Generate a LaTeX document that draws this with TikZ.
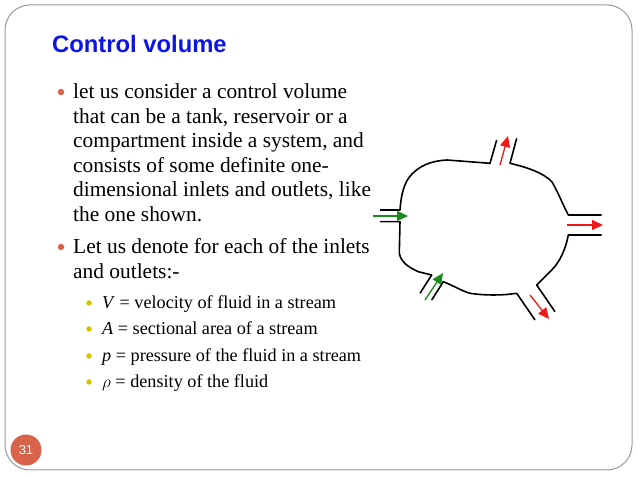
\documentclass[tikz,border=0pt]{standalone}
\usepackage{fontspec}
\setmainfont{Liberation Serif}
\newfontfamily\arialf{Liberation Sans}
\usetikzlibrary{arrows.meta}
\definecolor{bulletred}{HTML}{D9634A}
\definecolor{bulletyel}{HTML}{D4C400}
\definecolor{titleblue}{HTML}{0A14E6}
\definecolor{flowgreen}{HTML}{1A8A1A}
\definecolor{flowred}{HTML}{F01818}
\tikzset{
  body/.style={anchor=base west,inner sep=0pt,font=\fontsize{21.4}{24}\selectfont},
  sub/.style={anchor=base west,inner sep=0pt,font=\fontsize{18.2}{20}\selectfont},
  bdot/.style={circle,fill=bulletred,inner sep=0pt,minimum size=6.5pt},
  sdot/.style={circle,fill=bulletyel,inner sep=0pt,minimum size=5.5pt},
  wall/.style={line width=1.6pt,line join=round},
  flow/.style={line width=1.3pt,-{Triangle[length=11pt,width=10pt]}}
}
\begin{document}
\begin{tikzpicture}[x=1pt,y=-1pt]
\useasboundingbox (0,0) rectangle (638,478);
\draw[gray!80,line width=1pt,rounded corners=25pt] (5,5) rectangle (632,470);
\node[circle,fill=bulletred,minimum size=31pt,inner sep=0pt,text=white,font=\arialf\fontsize{13}{14}\selectfont] (pg) at (26,450) {31};
\node[anchor=base west,inner sep=0pt,text=titleblue,font=\arialf\bfseries\fontsize{23.8}{26}\selectfont] (title) at (52,53) {Control volume};
% bullets
\node[bdot] (b1) at (61,92) {};
\node[body] (l1) at (73,99) {let us consider a control volume};
\node[body] (l2) at (73,123.5) {that can be a tank, reservoir or a};
\node[body] (l3) at (73,148) {compartment inside a system, and};
\node[body] (l4) at (73,172.5) {consists of some definite one-};
\node[body] (l5) at (73,197) {dimensional inlets and outlets, like};
\node[body] (l6) at (73,221.5) {the one shown.};
\node[bdot] (b2) at (61,247) {};
\node[body] (l7) at (73,254) {Let us denote for each of the inlets};
\node[body] (l8) at (73,278.5) {and outlets:-};
\node[sdot] (s1) at (89,303) {};
\node[sub] (t1) at (102,309) {\textit{V} = velocity of fluid in a stream};
\node[sdot] (s2) at (89,329) {};
\node[sub] (t2) at (102,335) {\textit{A} = sectional area of a stream};
\node[sdot] (s3) at (89,356) {};
\node[sub] (t3) at (102,362) {\textit{p} = pressure of the fluid in a stream};
\node[sdot] (s4) at (89,382) {};
\node[sub] (t4) at (102,388) {$\rho$ = density of the fluid};
% control volume
\draw[wall] (380,210) -- (400,210) .. controls (401,195) and (404,182) .. (412,174)
  .. controls (420,166) and (430,161) .. (447,160) -- (490,163.3) -- (496.7,140);
\draw[wall] (516.7,138.3) -- (510,163.3) .. controls (530,168) and (545,174) .. (552,182)
  .. controls (558,192) and (563,205) .. (568.3,215) -- (601.7,215);
\draw[wall] (601.7,235) -- (568.3,235) .. controls (566,248) and (560,262) .. (551.7,270) -- (536.7,285) -- (555,311.7);
\draw[wall] (535,320) -- (516.7,293.3) .. controls (500,296) and (480,295) .. (470,293.3) .. controls (462,291) and (452,285) .. (443.3,281.7) -- (431.7,300);
\draw[wall] (420,293.3) -- (431.7,275) -- (418.3,271.7) .. controls (408,267) and (401,262) .. (399.3,253.3)
  -- (400,221.7) -- (380,221.7);
% flows
\draw[flow,flowgreen] (373,216) -- (408,216);
\draw[flow,flowgreen] (425,300) -- (443,273);
\draw[flow,flowred] (500,165) -- (508,136);
\draw[flow,flowred] (567,225) -- (603,225);
\draw[flow,flowred] (530,295) -- (549,319);
\end{tikzpicture}
\end{document}
